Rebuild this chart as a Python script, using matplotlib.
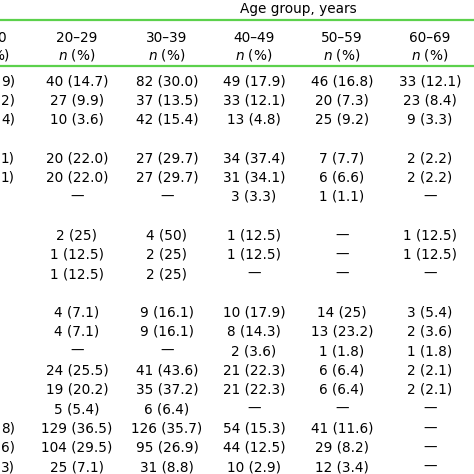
import matplotlib
matplotlib.use("Agg")
import matplotlib.pyplot as plt

D = "\u2014"
age_groups = ["20\u201329", "30\u201339", "40\u201349", "50\u201359", "60\u201369"]
left_col = ["9)", "2)", "4)", "", "1)", "1)", "", "", "", "", "", "", "", "", "", "", "", "", "8)", "6)", "3)"]
rows = [
    ["40 (14.7)", "82 (30.0)", "49 (17.9)", "46 (16.8)", "33 (12.1)"],
    ["27 (9.9)", "37 (13.5)", "33 (12.1)", "20 (7.3)", "23 (8.4)"],
    ["10 (3.6)", "42 (15.4)", "13 (4.8)", "25 (9.2)", "9 (3.3)"],
    None,
    ["20 (22.0)", "27 (29.7)", "34 (37.4)", "7 (7.7)", "2 (2.2)"],
    ["20 (22.0)", "27 (29.7)", "31 (34.1)", "6 (6.6)", "2 (2.2)"],
    [D, D, "3 (3.3)", "1 (1.1)", D],
    None,
    ["2 (25)", "4 (50)", "1 (12.5)", D, "1 (12.5)"],
    ["1 (12.5)", "2 (25)", "1 (12.5)", D, "1 (12.5)"],
    ["1 (12.5)", "2 (25)", D, D, D],
    None,
    ["4 (7.1)", "9 (16.1)", "10 (17.9)", "14 (25)", "3 (5.4)"],
    ["4 (7.1)", "9 (16.1)", "8 (14.3)", "13 (23.2)", "2 (3.6)"],
    [D, D, "2 (3.6)", "1 (1.8)", "1 (1.8)"],
    ["24 (25.5)", "41 (43.6)", "21 (22.3)", "6 (6.4)", "2 (2.1)"],
    ["19 (20.2)", "35 (37.2)", "21 (22.3)", "6 (6.4)", "2 (2.1)"],
    ["5 (5.4)", "6 (6.4)", D, D, D],
    ["129 (36.5)", "126 (35.7)", "54 (15.3)", "41 (11.6)", D],
    ["104 (29.5)", "95 (26.9)", "44 (12.5)", "29 (8.2)", D],
    ["25 (7.1)", "31 (8.8)", "10 (2.9)", "12 (3.4)", D],
]

fig = plt.figure(figsize=(4.74, 4.74), dpi=100)
ax = fig.add_axes([0, 0, 1, 1])
ax.set_xlim(0, 474)
ax.set_ylim(474, 0)
ax.axis("off")

fs = 9.8
col_x = [77, 167, 254, 342, 430]
green = "#5cd14c"

ax.text(298, 9, "Age group, years", ha="center", va="center", fontsize=fs)
ax.axhline(20, color=green, lw=1.6)
ax.axhline(66, color=green, lw=1.6)

ax.text(6, 38, "0", ha="right", va="center", fontsize=fs)
ax.text(10, 55, "%)", ha="right", va="center", fontsize=fs)
for x, g in zip(col_x, age_groups):
    ax.text(x, 38, g, ha="center", va="center", fontsize=fs)
    ax.text(x, 55, "$\\it{n}$ (%)", ha="center", va="center", fontsize=fs)

y = 81
for lab, r in zip(left_col, rows):
    if lab:
        ax.text(15, y, lab, ha="right", va="center", fontsize=fs)
    if r is not None:
        for x, v in zip(col_x, r):
            ax.text(x, y, v, ha="center", va="center", fontsize=fs)
    y += 19.3

fig.savefig("out.png", dpi=100)
